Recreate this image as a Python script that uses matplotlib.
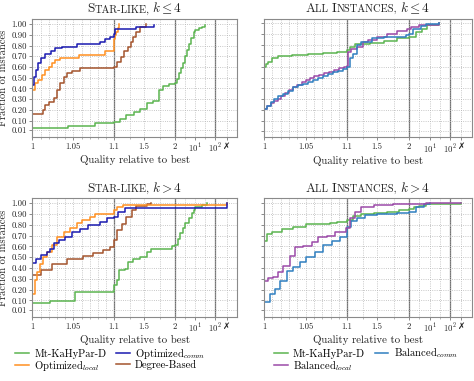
import numpy as np
import matplotlib
matplotlib.use('Agg')
import matplotlib.pyplot as plt
from matplotlib.offsetbox import TextArea, HPacker, AnchoredOffsetbox

plt.rcParams['font.family'] = ['cmr10', 'DejaVu Sans']
plt.rcParams['mathtext.fontset'] = 'cm'
plt.rcParams['axes.formatter.use_mathtext'] = True
plt.rcParams['axes.unicode_minus'] = False

# "x" on the axis = infeasible, placed after 10^2
X_INF = 1000.0

# --- Star-like, k <= 4 ---
sl4_mt_q = [1, 1.044, 1.0765, 1.1, 1.165, 1.25, 1.36, 1.45, 1.54, 1.64, 1.73, 1.80, 1.89, 2.0,
            2.3, 2.7, 3.2, 3.8, 4.5, 5.3, 6.2, 7.2, 8.8, 9.5, 14.6, 21.6, 31.6]
sl4_mt_f = [0.028, 0.05, 0.075, 0.084, 0.115, 0.15, 0.18, 0.21, 0.26, 0.28, 0.385, 0.425, 0.44, 0.447,
            0.49, 0.54, 0.59, 0.64, 0.70, 0.755, 0.81, 0.87, 0.925, 0.944, 0.96, 0.975, 0.996]
sl4_loc_q = [1, 1.003, 1.0073, 1.0115, 1.0155, 1.0195, 1.0237, 1.0277, 1.033, 1.057, 1.0887,
             1.1, 1.11, 1.125, 1.14, 1.155]
sl4_loc_f = [0.385, 0.447, 0.478, 0.525, 0.571, 0.602, 0.634, 0.665, 0.686, 0.711, 0.748,
             0.86, 0.90, 0.93, 0.96, 1.0]
sl4_comm_q = [1, 1.0016, 1.0045, 1.0073, 1.0102, 1.0155, 1.0224, 1.0277, 1.0358, 1.054, 1.0826,
              1.0887, 1.0948, 1.1, 1.11, 1.38, 1.65]
sl4_comm_f = [0.43, 0.51, 0.571, 0.634, 0.68, 0.717, 0.748, 0.773, 0.789, 0.81, 0.835,
              0.86, 0.88, 0.91, 0.955, 0.975, 0.99]
sl4_deg_q = [1, 1.0127, 1.0155, 1.0195, 1.026, 1.030, 1.034, 1.0386, 1.0427, 1.048, 1.058,
             1.1, 1.135, 1.187, 1.22, 1.27, 1.31, 1.34, 1.38, 1.44, 1.53]
sl4_deg_f = [0.158, 0.20, 0.245, 0.276, 0.307, 0.385, 0.447, 0.509, 0.54, 0.562, 0.587,
             0.60, 0.649, 0.695, 0.748, 0.789, 0.835, 0.88, 0.93, 0.975, 0.997]

# --- All instances, k <= 4 ---
al4_mt_q = [1, 1.002, 1.005, 1.009, 1.017, 1.033, 1.053, 1.071, 1.087, 1.1, 1.128, 1.19, 1.39, 1.59,
            1.79, 2.0, 3.4, 5.7, 8.4, 28.7]
al4_mt_f = [0.60, 0.625, 0.645, 0.676, 0.697, 0.706, 0.715, 0.727, 0.736, 0.75, 0.78, 0.806, 0.818, 0.842,
            0.864, 0.879, 0.918, 0.948, 0.988, 1.0]
al4_loc_q = [1, 1.004, 1.008, 1.012, 1.016, 1.020, 1.025, 1.030, 1.035, 1.040, 1.045, 1.050,
             1.055, 1.060, 1.066, 1.072, 1.078, 1.084, 1.090, 1.096, 1.1, 1.104, 1.11, 1.15,
             1.22, 1.30, 1.37, 1.5, 1.64, 1.79, 1.96, 2.4, 4.5, 28]
al4_loc_f = [0.206, 0.235, 0.262, 0.285, 0.305, 0.33, 0.355, 0.385, 0.41, 0.435, 0.455, 0.48,
             0.50, 0.515, 0.525, 0.54, 0.555, 0.57, 0.585, 0.60, 0.61, 0.70, 0.736, 0.767,
             0.78, 0.827, 0.848, 0.873, 0.903, 0.927, 0.948, 0.97, 0.988, 1.0]
al4_comm_q = [1, 1.004, 1.008, 1.012, 1.017, 1.023, 1.029, 1.035, 1.041, 1.047, 1.053, 1.059,
              1.065, 1.071, 1.077, 1.083, 1.089, 1.095, 1.1, 1.128, 1.17, 1.22, 1.27, 1.42,
              1.6, 1.95, 2.0, 2.7, 5.1, 7.4, 28]
al4_comm_f = [0.206, 0.24, 0.275, 0.30, 0.325, 0.35, 0.38, 0.41, 0.43, 0.44, 0.455, 0.473,
              0.495, 0.515, 0.53, 0.548, 0.565, 0.58, 0.60, 0.676, 0.72, 0.797, 0.827, 0.867,
              0.879, 0.89, 0.903, 0.948, 0.979, 0.994, 1.0]

# --- Star-like, k > 4 ---
slg_mt_q = [1, 1.0215, 1.052, 1.1, 1.128, 1.16, 1.23, 1.27, 1.34, 1.44, 1.54, 1.61, 1.95, 2.0,
            2.5, 3.1, 3.8, 4.6, 6.0, 7.7, 9.0, 10, 21, 38]
slg_mt_f = [0.075, 0.093, 0.177, 0.24, 0.286, 0.379, 0.394, 0.457, 0.488, 0.503, 0.55, 0.58, 0.60, 0.61,
            0.665, 0.72, 0.77, 0.814, 0.86, 0.907, 0.94, 0.969, 0.984, 1.0]
slg_loc_q = [1, 1.003, 1.006, 1.009, 1.013, 1.0175, 1.0236, 1.030, 1.038, 1.046, 1.054, 1.06,
             1.07, 1.076, 1.1, 1.128, 1.21, X_INF]
slg_loc_f = [0.16, 0.286, 0.363, 0.44, 0.503, 0.55, 0.612, 0.69, 0.736, 0.767, 0.814, 0.845,
             0.876, 0.90, 0.94, 0.969, 0.985, 1.0]
slg_comm_q = [1, 1.005, 1.011, 1.0175, 1.0215, 1.026, 1.032, 1.04, 1.048, 1.058, 1.068, 1.0825,
              1.091, 1.1, 1.145, 1.23, X_INF]
slg_comm_f = [0.447, 0.488, 0.52, 0.55, 0.58, 0.627, 0.658, 0.69, 0.736, 0.758, 0.798, 0.83,
              0.86, 0.876, 0.922, 0.953, 1.0]
slg_deg_q = [1, 1.011, 1.0236, 1.042, 1.062, 1.074, 1.0866, 1.095, 1.1, 1.128, 1.19, 1.25, 1.32,
             1.39, 1.54, 1.61]
slg_deg_f = [0.332, 0.379, 0.44, 0.488, 0.51, 0.54, 0.565, 0.59, 0.658, 0.75, 0.81, 0.876, 0.938,
             0.975, 0.994, 1.0]

# --- All instances, k > 4 ---
alg_mt_q = [1, 1.003, 1.009, 1.021, 1.035, 1.051, 1.079, 1.087, 1.1, 1.17, 1.27, 1.45, 1.64, 1.83,
            2.0, 3.0, 4.5, 7.4, X_INF]
alg_mt_f = [0.65, 0.713, 0.729, 0.76, 0.78, 0.81, 0.82, 0.83, 0.84, 0.88, 0.897, 0.913, 0.92, 0.934,
            0.943, 0.96, 0.974, 0.996, 1.0]
alg_loc_q = [1, 1.005, 1.011, 1.017, 1.023, 1.031, 1.037, 1.047, 1.057, 1.065, 1.075, 1.085, 1.099,
             1.128, 1.19, 1.27, 1.45, 1.74, 7.4, X_INF]
alg_loc_f = [0.283, 0.308, 0.32, 0.36, 0.42, 0.513, 0.59, 0.606, 0.637, 0.683, 0.698, 0.729, 0.77,
             0.867, 0.922, 0.96, 0.983, 0.99, 0.997, 1.0]
alg_comm_q = [1, 1.007, 1.013, 1.019, 1.027, 1.035, 1.043, 1.051, 1.061, 1.071, 1.081, 1.091, 1.1,
              1.15, 1.22, 1.32, 1.5, 1.79, 2.0, 3.4, 6.5, 10]
alg_comm_f = [0.085, 0.16, 0.207, 0.277, 0.376, 0.413, 0.453, 0.505, 0.545, 0.615, 0.652, 0.683, 0.775,
              0.836, 0.867, 0.89, 0.904, 0.913, 0.922, 0.96, 0.99, 1.0]

# axis ticks
x_major = [1, 1.05, 1.1, 1.5, 2, 10, 100, X_INF]
x_major_labels = ['1', '1.05', '1.1', '1.5', '2', '$10^1$', '$10^2$', '\u2717']
x_minor = [1.01, 1.02, 1.03, 1.04, 1.06, 1.07, 1.08, 1.09, 1.3, 1.75, 4.5, 31.6]
x_solid = [1.1, 2, 100]
y_ticks = [0.01, 0.1, 0.2, 0.3, 0.4, 0.5, 0.6, 0.7, 0.8, 0.9, 1.0]
y_labels = ['0.01', '0.10', '0.20', '0.30', '0.40', '0.50', '0.60', '0.70', '0.80', '0.90', '1.00']

C_MT = '#5bb450'
C_LOC = '#ff9020'
C_COMM = '#1a1ab0'
C_DEG = '#a3532c'
C_BLOC = '#9b4aa8'
C_BCOMM = '#2f7fc0'

# piecewise axis: value -> position
knot_q = np.log([0.5, 1, 1.05, 1.1, 1.5, 2, 10, 100, X_INF, 1e4])
knot_p = np.array([-5, 0, 0.5, 1, 1.36, 1.74, 1.99, 2.235, 2.372, 2.5])


def fwd(q):
    q = np.clip(np.asarray(q, dtype=float), 1e-6, None)
    return np.interp(np.log(q), knot_q, knot_p)


def inv(p):
    return np.exp(np.interp(np.asarray(p, dtype=float), knot_p, knot_q))


def sc_title(ax, parts):
    boxes = [TextArea(t, textprops=dict(size=s, color='#222222')) for t, s in parts]
    pack = HPacker(children=boxes, align='baseline', pad=0, sep=0)
    ab = AnchoredOffsetbox(loc='lower center', child=pack, bbox_to_anchor=(0.5, 1.025),
                           bbox_transform=ax.transAxes, frameon=False, pad=0, borderpad=0)
    ax.add_artist(ab)


def setup(ax, show_y):
    ax.set_xscale('function', functions=(fwd, inv))
    ax.set_xlim(1, 1e4)
    ax.set_ylim(-0.05, 1.045)
    ax.set_xticks(x_major, x_major_labels)
    ax.set_xticks(x_minor, minor=True)
    ax.set_yticks(y_ticks, y_labels if show_y else [])
    ax.grid(True, which='both', ls=':', color='#b5b5b5', lw=0.6)
    for xv in x_solid:
        ax.axvline(xv, color='#6a6a6a', lw=0.9, zorder=1.5)
    for s in ax.spines.values():
        s.set_color('#8a8a8a')
        s.set_linewidth(0.8)
    ax.tick_params(which='major', length=2.5, width=0.6, color='#777777', labelsize=6.3,
                   labelcolor='#222222', pad=1.5)
    ax.tick_params(which='minor', length=1.5, width=0.5, color='#999999')
    ax.set_xlabel('Quality relative to best', fontsize=7.8, color='#222222', labelpad=0)
    if show_y:
        ax.set_ylabel('Fraction of instances', fontsize=7.6, color='#222222', labelpad=2)


fig = plt.figure(figsize=(4.74, 3.81), dpi=100)
ax_tl = fig.add_axes([32.3 / 474, 1 - 136.7 / 381, 204.7 / 474, 117.4 / 381])
ax_tr = fig.add_axes([264 / 474, 1 - 137.0 / 381, 208 / 474, 118.4 / 381])
ax_bl = fig.add_axes([32.3 / 474, 1 - 316.7 / 381, 204.7 / 474, 118.4 / 381])
ax_br = fig.add_axes([264 / 474, 1 - 316.7 / 381, 208 / 474, 118.4 / 381])

setup(ax_tl, True)
setup(ax_tr, False)
setup(ax_bl, True)
setup(ax_br, False)

lw = 1.1
ax_tl.step(sl4_mt_q, sl4_mt_f, where='post', color=C_MT, lw=lw)
ax_tl.step(sl4_deg_q, sl4_deg_f, where='post', color=C_DEG, lw=lw)
ax_tl.step(sl4_loc_q, sl4_loc_f, where='post', color=C_LOC, lw=lw)
ax_tl.step(sl4_comm_q, sl4_comm_f, where='post', color=C_COMM, lw=lw)

ax_tr.step(al4_mt_q, al4_mt_f, where='post', color=C_MT, lw=lw)
ax_tr.step(al4_loc_q, al4_loc_f, where='post', color=C_BLOC, lw=lw)
ax_tr.step(al4_comm_q, al4_comm_f, where='post', color=C_BCOMM, lw=lw)

h_mt, = ax_bl.step(slg_mt_q, slg_mt_f, where='post', color=C_MT, lw=lw, label='Mt-KaHyPar-D')
h_deg, = ax_bl.step(slg_deg_q, slg_deg_f, where='post', color=C_DEG, lw=lw, label='Degree-Based')
h_loc, = ax_bl.step(slg_loc_q, slg_loc_f, where='post', color=C_LOC, lw=lw, label='Optimized$_{local}$')
h_comm, = ax_bl.step(slg_comm_q, slg_comm_f, where='post', color=C_COMM, lw=lw, label='Optimized$_{comm}$')

g_mt, = ax_br.step(alg_mt_q, alg_mt_f, where='post', color=C_MT, lw=lw, label='Mt-KaHyPar-D')
g_comm, = ax_br.step(alg_comm_q, alg_comm_f, where='post', color=C_BCOMM, lw=lw, label='Balanced$_{comm}$')
g_loc, = ax_br.step(alg_loc_q, alg_loc_f, where='post', color=C_BLOC, lw=lw, label='Balanced$_{local}$')

leg_kw = dict(ncol=2, frameon=False, fontsize=7.6, handlelength=1.3, handletextpad=0.5,
              columnspacing=0.9, labelspacing=-0.05, borderpad=0, loc='upper center')
ax_bl.legend(handles=[h_mt, h_loc, h_comm, h_deg], bbox_to_anchor=(0.38, -0.2), **leg_kw)
ax_br.legend(handles=[g_mt, g_loc, g_comm], bbox_to_anchor=(0.49, -0.2), **leg_kw)

BIG, SMALL = 9.5, 7.6
sc_title(ax_tl, [('S', BIG), ('TAR-LIKE,', SMALL), (r'$\;k \leq 4$', BIG)])
sc_title(ax_tr, [('A', BIG), ('LL ', SMALL), ('I', BIG), ('NSTANCES,', SMALL), (r'$\;k \leq 4$', BIG)])
sc_title(ax_bl, [('S', BIG), ('TAR-LIKE,', SMALL), (r'$\;k > 4$', BIG)])
sc_title(ax_br, [('A', BIG), ('LL ', SMALL), ('I', BIG), ('NSTANCES,', SMALL), (r'$\;k > 4$', BIG)])

fig.savefig('out.png', dpi=100)
